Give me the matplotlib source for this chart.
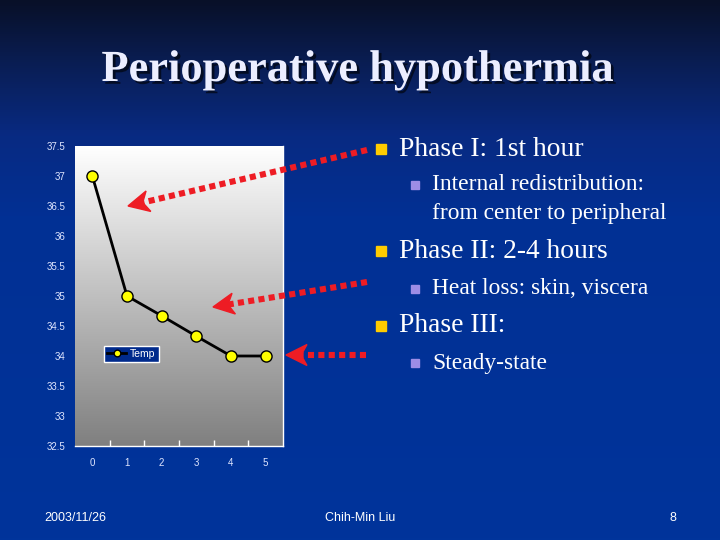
import numpy as np
import matplotlib
matplotlib.use('Agg')
import matplotlib.pyplot as plt
from matplotlib.patches import Polygon, Rectangle
import matplotlib.patheffects as pe

# data
hours = [0, 1, 2, 3, 4, 5]
temp = [37.0, 35.0, 34.67, 34.33, 34.0, 34.0]
y_ticks = [32.5, 33, 33.5, 34, 34.5, 35, 35.5, 36, 36.5, 37, 37.5]
y_labels = ['32.5', '33', '33.5', '34', '34.5', '35', '35.5', '36', '36.5', '37', '37.5']

title = 'Perioperative hypothermia'
bullets = [
    (1, 'Phase I: 1st hour'),
    (2, 'Internal redistribution:'),
    (2, 'from center to peripheral'),
    (1, 'Phase II: 2-4 hours'),
    (2, 'Heat loss: skin, viscera'),
    (1, 'Phase III:'),
    (2, 'Steady-state'),
]
bullet_y = [149, 185, 213, 251, 289, 326, 363]
show_marker = [True, True, False, True, True, True, True]
footer = ['2003/11/26', 'Chih-Min Liu', '8']

fig = plt.figure(figsize=(7.2, 5.4), dpi=100)

# slide background: dark navy at the top fading to royal blue
bg = fig.add_axes([0, 0, 1, 1])
bg.set_axis_off()
yy = np.linspace(0, 1, 270)
stops = np.array([0.0, 0.12, 0.25, 0.4, 1.0])
cols = np.array([[8, 16, 40], [10, 30, 85], [8, 42, 130], [2, 48, 148], [0, 52, 155]]) / 255
grad = np.stack([np.interp(yy, stops, cols[:, i]) for i in range(3)], axis=-1)
bg.imshow(grad[:, None, :].repeat(2, axis=1), aspect='auto', extent=[0, 1, 1, 0])
bg.set_xlim(0, 1)
bg.set_ylim(1, 0)

# chart
ax = fig.add_axes([75 / 720, 94 / 540, 208 / 720, 300 / 540])
ax.set_xlim(-0.5, 5.5)
ax.set_ylim(32.5, 37.5)
g = np.linspace(1.0, 0.5, 256)[:, None]
ax.imshow(np.dstack([g, g, g]), aspect='auto', extent=[-0.5, 5.5, 32.5, 37.5], zorder=0)
ax.plot(hours, temp, color='black', lw=2, marker='o', ms=8,
        mfc='#ffff00', mec='black', mew=1, label='Temp', zorder=3)
ax.set_yticks(y_ticks)
ax.set_yticklabels(y_labels)
ax.set_xticks(hours)
ax.set_xticks([h + 0.5 for h in hours[:-1]], minor=True)
ax.tick_params(axis='x', which='major', length=0, pad=9)
ax.tick_params(axis='x', which='minor', direction='in', length=4, color='white', width=1)
ax.tick_params(axis='y', length=0, pad=7)
for t in ax.get_xticklabels() + ax.get_yticklabels():
    t.set_color('#e0e6ff')
    t.set_fontsize(7)
    t.set_fontfamily('Liberation Sans')
for s in ['left', 'top']:
    ax.spines[s].set_visible(False)
for s in ['right', 'bottom']:
    ax.spines[s].set_color('white')
    ax.spines[s].set_linewidth(1)
leg = ax.legend(loc='lower left', bbox_to_anchor=(0.115, 0.262), frameon=True,
                fancybox=False, prop={'family': 'Liberation Sans', 'size': 7.5},
                handlelength=1.8, handletextpad=0.4, borderpad=0.3, markerscale=0.6)
leg.get_frame().set_facecolor('#002a8c')
leg.get_frame().set_edgecolor('white')
leg.get_frame().set_alpha(1)
leg.get_frame().set_linewidth(1)
for t in leg.get_texts():
    t.set_color('white')

# overlay in pixel coordinates for text and arrows
ov = fig.add_axes([0, 0, 1, 1])
ov.set_xlim(0, 720)
ov.set_ylim(540, 0)
ov.set_axis_off()
ov.patch.set_alpha(0)

ov.text(358, 70, title, ha='center', va='center', fontsize=32, fontweight='bold',
        family='Liberation Serif', color='#eceeff',
        path_effects=[pe.withSimplePatchShadow(offset=(2, -2), shadow_rgbFace='black', alpha=0.6)])

for (lvl, txt), y, mk in zip(bullets, bullet_y, show_marker):
    if lvl == 1:
        if mk:
            ov.add_patch(Rectangle((376, y - 5), 10, 10, color='#ffcc00'))
        ov.text(399, y, txt, ha='left', va='center', fontsize=19.8,
                family='Liberation Serif', color='white')
    else:
        if mk:
            ov.add_patch(Rectangle((411, y - 4), 8, 8, color='#9d8de6'))
        ov.text(432, y, txt, ha='left', va='center', fontsize=16.9,
                family='Liberation Serif', color='white')

# red dotted arrows pointing at the chart
arrows = [((367, 150), (128, 206)), ((367, 282), (213, 307)), ((366, 355), (286, 355))]
for (x0, y0), (x1, y1) in arrows:
    d = np.array([x1 - x0, y1 - y0], dtype=float)
    L = np.hypot(*d)
    u = d / L
    n = np.array([-u[1], u[0]])
    hl, hw = 21, 10.5
    base = np.array([x1, y1]) - u * hl
    ov.plot([x0, base[0] + u[0] * 6], [y0, base[1] + u[1] * 6], color='#ee1c24',
            lw=4.4, ls=(0, (1.0, 0.7)), solid_capstyle='butt', dash_capstyle='butt')
    tip = np.array([x1, y1])
    notch = np.array([x1, y1]) - u * hl * 0.72
    head = [tip, base + n * hw, notch, base - n * hw]
    ov.add_patch(Polygon(head, closed=True, color='#ee1c24'))

ov.text(44, 518, footer[0], ha='left', va='center', fontsize=9, family='Liberation Sans', color='white')
ov.text(360, 518, footer[1], ha='center', va='center', fontsize=9, family='Liberation Sans', color='white')
ov.text(676, 518, footer[2], ha='right', va='center', fontsize=9, family='Liberation Sans', color='white')

fig.savefig('out.png', dpi=100)
